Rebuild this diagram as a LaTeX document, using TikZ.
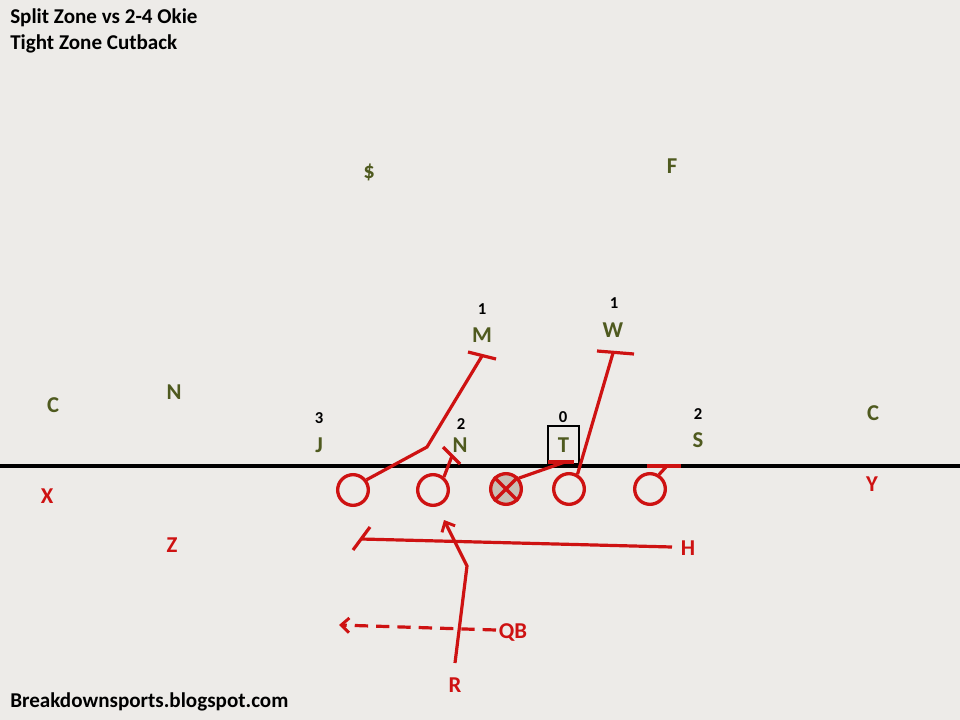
\documentclass[tikz,border=0pt]{standalone}
\usepackage{fontspec}
\setmainfont{Carlito}
\usetikzlibrary{arrows.meta}
\definecolor{bg}{RGB}{237,235,232}
\definecolor{defc}{RGB}{79,90,31}
\definecolor{offc}{RGB}{206,18,18}
\definecolor{ctrc}{RGB}{201,191,181}
\begin{document}
\begin{tikzpicture}[x=0.75pt,y=-0.75pt,
  deflbl/.style={text=defc,font=\bfseries\fontsize{17}{17}\selectfont,inner sep=0pt},
  offlbl/.style={text=offc,font=\bfseries\fontsize{17}{17}\selectfont,inner sep=0pt},
  numlbl/.style={text=black,font=\bfseries\fontsize{12.5}{12.5}\selectfont,inner sep=0pt},
  titlelbl/.style={text=black,font=\bfseries\fontsize{15.8}{15.8}\selectfont,inner sep=0pt,anchor=west},
  lineman/.style={circle,draw=offc,line width=2.5pt,minimum size=23pt,inner sep=0pt},
  blk/.style={draw=offc,line width=2.4pt},
  barb/.style={-{Straight Barb[length=6pt,width=11pt,line width=2.2pt]}}
]
\fill[bg] (0,0) rectangle (960,720);
\useasboundingbox (0,0) rectangle (960,720);

% titles
\node[titlelbl] (t1) at (10,18) {Split Zone vs 2-4 Okie};
\node[titlelbl] (t2) at (10,44) {Tight Zone Cutback};
\node[titlelbl] (foot) at (10,702) {Breakdownsports.blogspot.com};

% line of scrimmage
\draw[line width=2.3pt,black] (0,466) -- (960,466);

% defense
\node[deflbl] (dS) at (369,172) {\$};
\node[deflbl] (dF) at (672,166) {F};
\node[deflbl] (dM) at (482,335) {M};
\node[deflbl] (dW) at (613,330) {W};
\node[deflbl] (dCl) at (53,405) {C};
\node[deflbl] (dNo) at (174,392) {N};
\node[deflbl] (dJ) at (319,445) {J};
\node[deflbl] (dN) at (460,445) {N};
\node[deflbl,draw=black,line width=1.1pt,minimum width=23pt,minimum height=28.5pt] (dT) at (563.5,445) {T};
\node[deflbl] (dSs) at (698,440) {S};
\node[deflbl] (dCr) at (873,413) {C};

% numbers
\node[numlbl] (nM) at (482,309) {1};
\node[numlbl] (nW) at (614,303) {1};
\node[numlbl] (nJ) at (319,418) {3};
\node[numlbl] (nN) at (461,424) {2};
\node[numlbl] (nT) at (563,417) {0};
\node[numlbl] (nS) at (698,414) {2};

% offense line
\node[lineman] (c1) at (353,490) {};
\node[lineman] (c2) at (433,490) {};
\node[lineman,fill=ctrc] (c3) at (506,489) {};
\node[lineman] (c4) at (569,489) {};
\node[lineman] (c5) at (650,489) {};
\draw[blk] (c3.north west) -- (c3.south east) (c3.north east) -- (c3.south west);

% skill labels
\node[offlbl] (oX) at (47,496) {X};
\node[offlbl] (oY) at (872,484) {Y};
\node[offlbl] (oZ) at (172,545) {Z};
\node[offlbl] (oH) at (688,548) {H};
\node[offlbl] (oQB) at (513,632) {QB};
\node[offlbl] (oR) at (455,685) {R};

% blocking coordinates
\coordinate (k1) at (427,447);
\coordinate (e1) at (482,356);
\coordinate (b1a) at (468,352);
\coordinate (b1b) at (496,359);

\coordinate (e2) at (452,456);
\coordinate (b2a) at (443,447);
\coordinate (b2b) at (460,464);

\coordinate (e3) at (565,462);
\coordinate (b3a) at (548,462);
\coordinate (b3b) at (574,462);

\coordinate (e4) at (613,353);
\coordinate (b4a) at (597,351);
\coordinate (b4b) at (634,354);

\coordinate (e5) at (666,467);
\coordinate (b5a) at (647,466);
\coordinate (b5b) at (681,466);

\draw[blk] (c1.37) -- (k1) -- (e1);
\draw[blk] (b1a) -- (b1b);
\draw[blk] (c2.50) -- (e2);
\draw[blk] (b2a) -- (b2b);
\draw[blk] (c3.40) -- (e3);
\draw[blk] (b3a) -- (b3b);
\draw[blk] (c4.60) -- (e4);
\draw[blk] (b4a) -- (b4b);
\draw[blk] (c5.58) -- (e5);
\draw[blk] (b5a) -- (b5b);

% H kick-out
\coordinate (hs) at (672,547);
\coordinate (he) at (361,539);
\coordinate (hba) at (370,527);
\coordinate (hbb) at (353,550);
\draw[blk] (hs) -- (he);
\draw[blk] (hba) -- (hbb);

% R run
\coordinate (rs) at (455,663);
\coordinate (rk) at (467,566);
\coordinate (rt) at (444,520);
\draw[blk,barb] (rs) -- (rk) -- (rt);

% QB fake
\coordinate (qs) at (496,630);
\coordinate (qe) at (339,625);
\draw[blk,barb,dash pattern=on 10pt off 6pt] (qs) -- (qe);
\end{tikzpicture}
\end{document}
